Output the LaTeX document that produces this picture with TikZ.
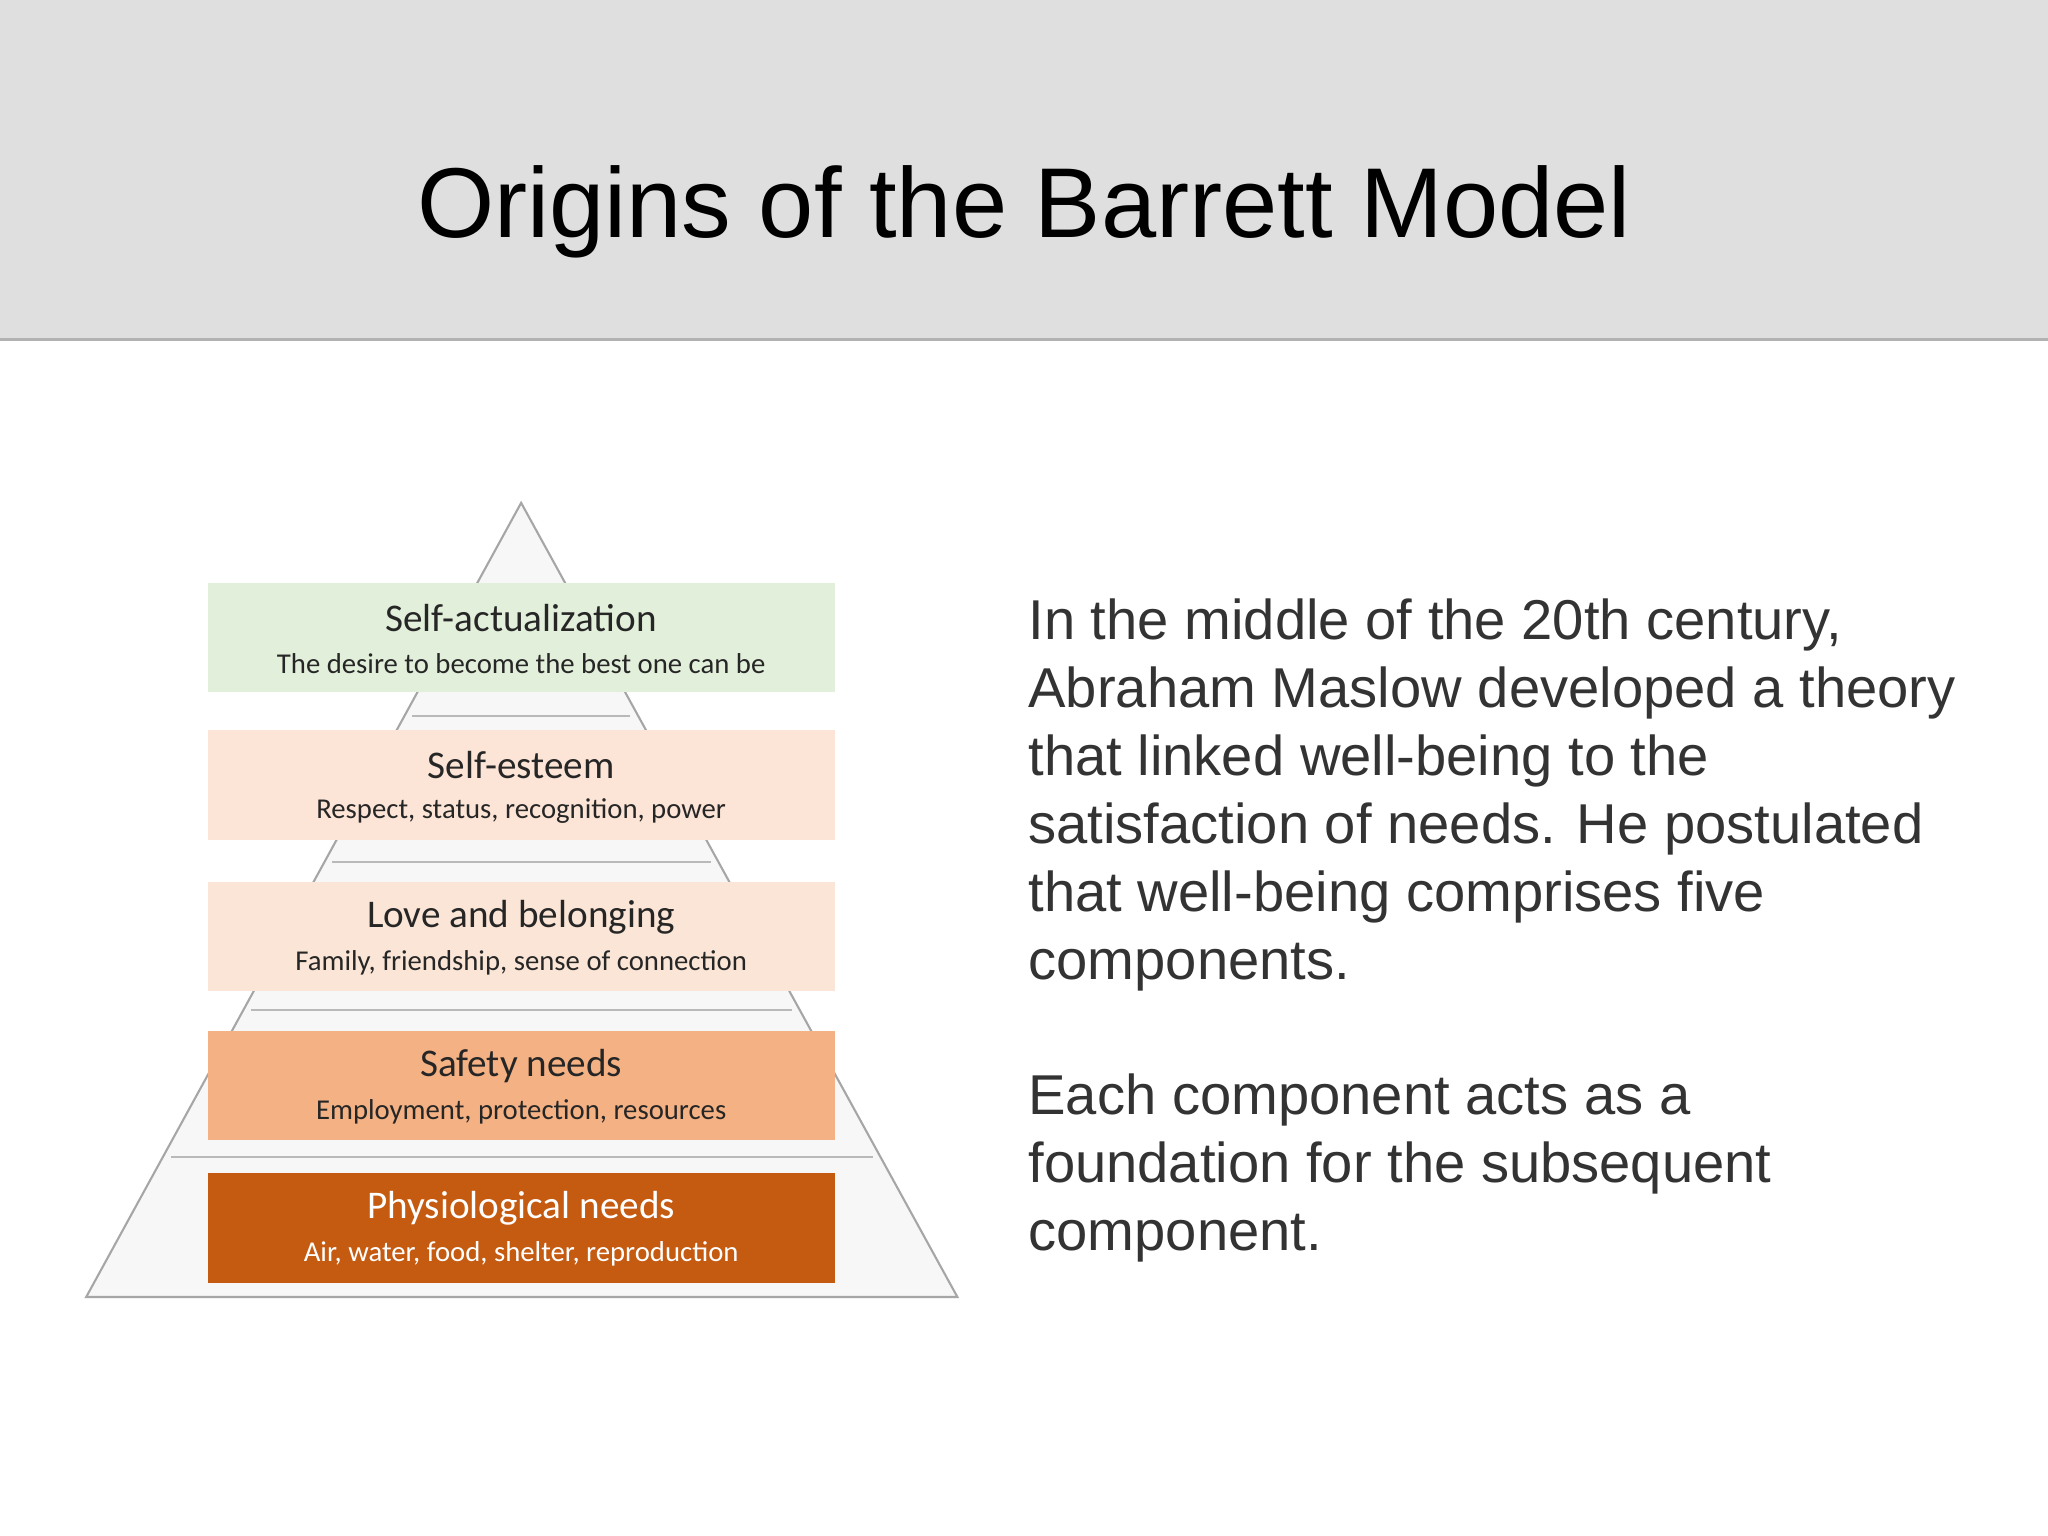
\documentclass[tikz,border=0pt]{standalone}
\usepackage{fontspec}
\setmainfont{Liberation Sans}
\newfontfamily\cali{Carlito}
\begin{document}
\begin{tikzpicture}[x=0.5pt,y=-0.5pt,
  ttl/.style={font=\cali\fontsize{15}{17}\selectfont,text=black!85},
  sub/.style={font=\cali\fontsize{11}{13}\selectfont,text=black!85}]
\useasboundingbox (0,0) rectangle (1568,1176);
\fill[white] (0,0) rectangle (1568,1176);
\fill[gray!25] (0,0) rectangle (1568,260);
\draw[gray!60,line width=1pt] (0,260) -- (1568,260);
\node (title) at (784,162) {\fontsize{38}{44}\selectfont Origins of the Barrett Model};
% pyramid
\coordinate (ap) at (399,385);
\coordinate (bl) at (66,993);
\coordinate (br) at (733,993);
\draw[gray!70,fill=gray!6,line width=0.8pt] (ap) -- (br) -- (bl) -- cycle;
\foreach \y in {548,660,773,886}{
  \draw[gray!55,line width=0.8pt] ({399-(\y-385)/608*333+6},\y) -- ({399+(\y-385)/608*334-6},\y);}
\fill[fill={rgb,255:red,226;green,239;blue,218}] (159,446) rectangle (639,530);
\fill[fill={rgb,255:red,252;green,228;blue,214}] (159,559) rectangle (639,643);
\fill[fill={rgb,255:red,251;green,229;blue,214}] (159,675) rectangle (639,759);
\fill[fill={rgb,255:red,244;green,177;blue,131}] (159,789) rectangle (639,873);
\fill[fill={rgb,255:red,197;green,90;blue,17}] (159,898) rectangle (639,982);
\node[ttl] (t1) at (399,473) {Self-actualization};
\node[sub] (s1) at (399,508) {The desire to become the best one can be};
\node[ttl] (t2) at (399,586) {Self-esteem};
\node[sub] (s2) at (399,621) {Respect, status, recognition, power};
\node[ttl] (t3) at (399,702) {Love and belonging};
\node[sub] (s3) at (399,737) {Family, friendship, sense of connection};
\node[ttl] (t4) at (399,816) {Safety needs};
\node[sub] (s4) at (399,851) {Employment, protection, resources};
\node[ttl,text=white] (t5) at (399,925) {Physiological needs};
\node[sub,text=white] (s5) at (399,960) {Air, water, food, shelter, reproduction};
% right text
\node[anchor=north west,align=left,text=black!80,font=\fontsize{21.5}{26}\selectfont,inner sep=0pt] (body) at (787,458)
{In the middle of the 20th century,\\Abraham Maslow developed a theory\\that linked well-being to the\\satisfaction of needs. He postulated\\that well-being comprises five\\components.\\[26pt]Each component acts as a\\foundation for the subsequent\\component.};
\end{tikzpicture}
\end{document}
